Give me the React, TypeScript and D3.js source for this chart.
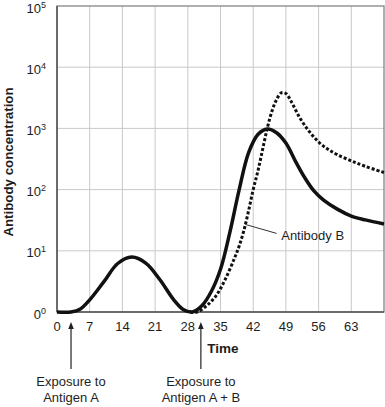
import React from "react";
import * as d3 from "d3";

const width = 385;
const height = 407;
const margin = { top: 6, right: 1, bottom: 95, left: 57 };

// axis ticks
const timeTicks = [0, 7, 14, 21, 28, 35, 42, 49, 56, 63];
const decadeValues = [1, 10, 100, 1000, 10000, 100000];
const decadeBases = ["0", "10", "10", "10", "10", "10"];
const decadeExponents = ["0", "1", "2", "3", "4", "5"];

// antibody A (solid)
const solidTime = [0, 3, 5, 7, 10, 13, 16, 19, 22, 25, 27, 29, 31, 33, 35, 37, 39, 41, 43, 45, 47, 49, 51, 53, 55, 57, 60, 63, 66, 70];
const solidValue = [1, 1, 1.12, 1.58, 3.1, 6.2, 7.9, 6.3, 3.4, 1.58, 1.1, 1, 1.26, 2.14, 5, 20, 100, 398, 794, 980, 850, 575, 295, 158, 95, 68, 48, 37, 32, 27.5];

// antibody B (dotted)
const dashTime = [28.5, 30, 32, 34, 36, 38, 39, 40, 41, 42, 43, 44, 45, 46, 47, 48, 49, 50, 52, 54, 56, 58, 60, 63, 66, 70];
const dashValue = [1, 1, 1.26, 1.82, 3.4, 7.6, 12, 21.4, 44.7, 100, 200, 447, 1000, 1900, 2950, 3800, 3720, 2880, 1480, 890, 600, 457, 372, 295, 240, 190];

const exposureTimes = [3, 30.8];
const exposureLines = [["Exposure to", "Antigen A"], ["Exposure to", "Antigen A + B"]];

const font = "'Liberation Sans', Arial, Helvetica, sans-serif";
const ink = "#1e1e1e";

const App = () => {
  const x = d3.scaleLinear().domain([0, 70]).range([margin.left, width - margin.right]);
  const y = d3.scaleLog().domain([1, 100000]).range([height - margin.bottom, margin.top]);

  const line = d3
    .line<[number, number]>()
    .x((d) => x(d[0]))
    .y((d) => y(d[1]))
    .curve(d3.curveCatmullRom.alpha(0.5));

  const solid = solidTime.map((t, i) => [t, solidValue[i]] as [number, number]);
  const dashed = dashTime.map((t, i) => [t, dashValue[i]] as [number, number]);

  const x0 = x(0);
  const x1 = x(70);
  const yTop = y(100000);
  const yBot = y(1);

  return (
    <svg
      width={width}
      height={height}
      viewBox={`0 0 ${width} ${height}`}
      style={{ position: "absolute", left: 0, top: 0, background: "#fff", fontFamily: font }}
    >
      {/* grid */}
      {timeTicks.slice(1).map((t) => (
        <line key={"gx" + t} x1={x(t)} x2={x(t)} y1={yTop} y2={yBot} stroke="#c9c9c9" strokeWidth={1} />
      ))}
      {decadeValues.slice(1, 5).map((v) => (
        <line key={"gy" + v} x1={x0} x2={x1} y1={y(v)} y2={y(v)} stroke="#c9c9c9" strokeWidth={1} />
      ))}
      {/* frame */}
      <rect x={x0} y={yTop} width={x1 - x0} height={yBot - yTop} fill="none" stroke="#7a7a7a" strokeWidth={1.2} />
      <line x1={x0} x2={x0} y1={yTop} y2={yBot} stroke="#555" strokeWidth={1.5} />
      <line x1={x0} x2={x1} y1={yBot} y2={yBot} stroke="#555" strokeWidth={1.5} />

      {/* y tick labels */}
      {decadeValues.map((v, i) => (
        <text key={"ty" + v} x={46} y={y(v) + 6.5} textAnchor="end" fontSize={13} fill={ink}>
          <tspan>{decadeBases[i]}</tspan>
          <tspan dy={-4.8} fontSize={9}>{decadeExponents[i]}</tspan>
        </text>
      ))}

      {/* x tick labels */}
      {timeTicks.map((t) => (
        <text key={"tx" + t} x={x(t)} y={yBot + 18.5} textAnchor="middle" fontSize={13} fill={ink}>
          {t}
        </text>
      ))}

      {/* axis titles */}
      <text
        transform={`translate(13,${(yTop + yBot) / 2 + 3}) rotate(-90)`}
        textAnchor="middle"
        fontSize={13.3}
        fontWeight="bold"
        fill={ink}
      >
        Antibody concentration
      </text>
      <text x={x(35.5)} y={yBot + 41} textAnchor="middle" fontSize={13.5} fontWeight="bold" fill={ink}>
        Time
      </text>

      {/* curves */}
      <path d={line(dashed) ?? ""} fill="none" stroke="#111" strokeWidth={3} strokeDasharray="3,2" />
      <path d={line(solid) ?? ""} fill="none" stroke="#111" strokeWidth={3.5} strokeLinejoin="round" />

      {/* Antibody B label */}
      <line x1={x(40.3)} y1={y(27)} x2={x(47)} y2={y(27) + 9} stroke="#333" strokeWidth={1} />
      <text x={x(48)} y={y(27) + 16} fontSize={13} fill={ink}>
        Antibody B
      </text>

      {/* exposure arrows */}
      {exposureTimes.map((t, i) => {
        const ax = x(t);
        const tip = yBot + 10;
        return (
          <g key={"ex" + i}>
            <line x1={ax} x2={ax} y1={tip + 5} y2={yBot + 57} stroke="#222" strokeWidth={1.2} />
            <path d={`M${ax},${tip} L${ax - 2.8},${tip + 7} L${ax + 2.8},${tip + 7} Z`} fill="#222" />
            {exposureLines[i].map((s, j) => (
              <text key={j} x={ax} y={yBot + 74 + j * 15.5} textAnchor="middle" fontSize={13} fill={ink}>
                {s}
              </text>
            ))}
          </g>
        );
      })}
    </svg>
  );
};

export default App;
